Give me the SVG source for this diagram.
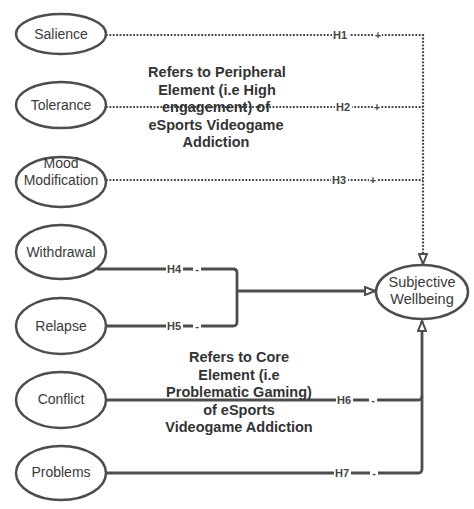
<svg xmlns="http://www.w3.org/2000/svg" width="474" height="509" viewBox="0 0 474 509">
<style>
.node ellipse{fill:#fff;stroke:#4d4d4d;stroke-width:2.5}
.lbl{font-family:"Liberation Sans",Arial,sans-serif;font-size:14px;fill:#3a3a3a;text-anchor:middle}
.note{font-family:"Liberation Sans",Arial,sans-serif;font-size:14.5px;font-weight:bold;fill:#333;text-anchor:middle}
.dot{fill:none;stroke:#444;stroke-width:2.2;stroke-dasharray:1.8 1.6}
.sol{fill:none;stroke:#4d4d4d;stroke-width:2.8}
.h{font-family:"Liberation Sans",Arial,sans-serif;font-size:11px;font-weight:bold;fill:#444;text-anchor:middle}
.bg{fill:#fff}
</style>
<defs>
<marker id="tri" viewBox="0 0 12 10" refX="11" refY="5" markerWidth="12" markerHeight="10" markerUnits="userSpaceOnUse" orient="auto">
<path d="M1 1 L11 5 L1 9 Z" fill="#fff" stroke="#4d4d4d" stroke-width="2"/>
</marker>
</defs>
<rect width="474" height="509" fill="#fff"/>
<g id="connectors">
<path class="dot" d="M106 35 H423 V264" marker-end="url(#tri)"/>
<path class="dot" d="M106 107 H423"/>
<path class="dot" d="M106 180 H423"/>
<path class="sol" d="M97 269 H233 Q237 269 237 273 V322 Q237 326 233 326 H106"/>
<path class="sol" d="M237 291 H375" marker-end="url(#tri)"/>
<path class="sol" d="M106 400 H418 Q422 400 422 396"/>
<path class="sol" d="M106 473 H418 Q422 473 422 469 V321" marker-end="url(#tri)"/>
<rect class="bg" x="332" y="29" width="17" height="11"/><text class="h" x="340" y="39">H1</text>
<rect class="bg" x="374" y="29" width="8" height="11"/><text class="h" x="378" y="39">+</text>
<rect class="bg" x="335" y="101" width="17" height="11"/><text class="h" x="343" y="111">H2</text>
<rect class="bg" x="373" y="101" width="8" height="11"/><text class="h" x="377" y="111">+</text>
<rect class="bg" x="331" y="174" width="17" height="11"/><text class="h" x="339" y="184">H3</text>
<rect class="bg" x="369" y="174" width="8" height="11"/><text class="h" x="373" y="184">+</text>
<rect class="bg" x="166" y="263" width="17" height="11"/><text class="h" x="174" y="273">H4</text>
<rect class="bg" x="193" y="263" width="8" height="11"/><text class="h" x="197" y="273">-</text>
<rect class="bg" x="166" y="320" width="17" height="11"/><text class="h" x="174" y="330">H5</text>
<rect class="bg" x="193" y="320" width="8" height="11"/><text class="h" x="197" y="330">-</text>
<rect class="bg" x="336" y="394" width="17" height="11"/><text class="h" x="344" y="404">H6</text>
<rect class="bg" x="369" y="394" width="8" height="11"/><text class="h" x="373" y="404">-</text>
<rect class="bg" x="334" y="467" width="17" height="11"/><text class="h" x="342" y="477">H7</text>
<rect class="bg" x="370" y="467" width="8" height="11"/><text class="h" x="374" y="477">-</text>
</g>
<g id="note1">
<text class="note" x="217" y="77">Refers to Peripheral</text>
<text class="note" x="217" y="94.5">Element (i.e High</text>
<text class="note" x="216" y="112">engagement) of</text>
<text class="note" x="216" y="129.5">eSports Videogame</text>
<text class="note" x="216" y="147">Addiction</text>
</g>
<g id="note2">
<text class="note" x="239" y="362">Refers to Core</text>
<text class="note" x="239" y="379.5">Element (i.e</text>
<text class="note" x="239" y="397">Problematic Gaming)</text>
<text class="note" x="239" y="414.5">of eSports</text>
<text class="note" x="239" y="432">Videogame Addiction</text>
</g>
<g id="salience" class="node"><ellipse cx="61" cy="34" rx="45" ry="20"/><text class="lbl" x="61" y="39">Salience</text></g>
<g id="tolerance" class="node"><ellipse cx="61" cy="105" rx="45" ry="23"/><text class="lbl" x="61" y="110">Tolerance</text></g>
<g id="mood" class="node"><ellipse cx="61" cy="182" rx="45" ry="25"/><text class="lbl" x="61" y="168">Mood</text><text class="lbl" x="61" y="185">Modification</text></g>
<g id="withdrawal" class="node"><ellipse cx="61" cy="252" rx="45" ry="27"/><text class="lbl" x="61" y="257">Withdrawal</text></g>
<g id="relapse" class="node"><ellipse cx="61" cy="326" rx="45" ry="28"/><text class="lbl" x="61" y="331">Relapse</text></g>
<g id="conflict" class="node"><ellipse cx="61" cy="400" rx="45" ry="28"/><text class="lbl" x="61" y="404">Conflict</text></g>
<g id="problems" class="node"><ellipse cx="61" cy="473" rx="45" ry="27"/><text class="lbl" x="61" y="477">Problems</text></g>
<g id="wellbeing" class="node"><ellipse cx="422" cy="292" rx="46" ry="27"/><text class="lbl" x="422" y="287" style="font-size:14.5px">Subjective</text><text class="lbl" x="422" y="304" style="font-size:14.5px">Wellbeing</text></g>
</svg>
